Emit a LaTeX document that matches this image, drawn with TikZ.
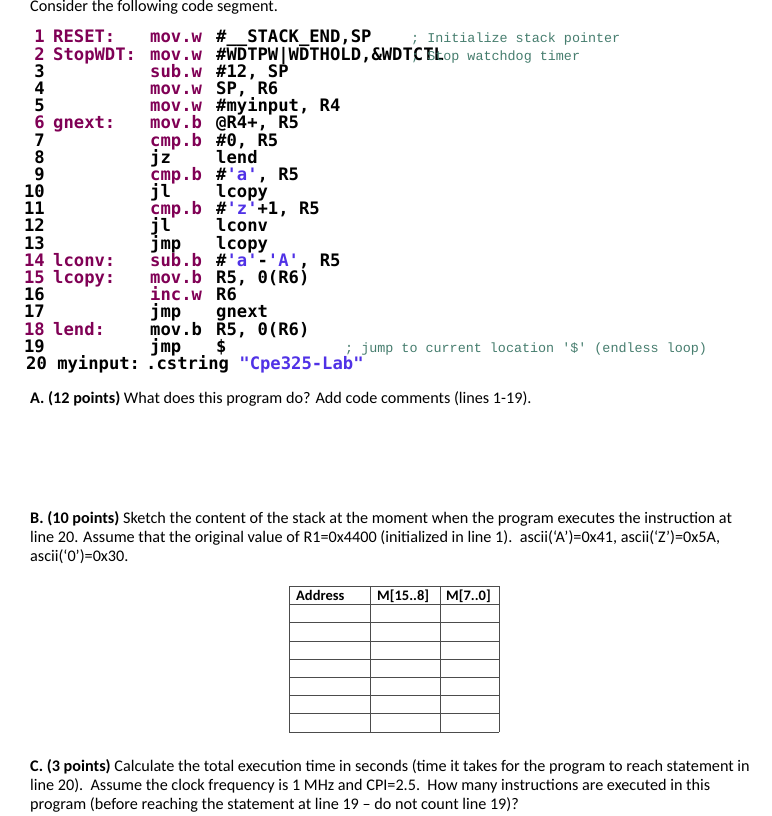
\documentclass[tikz,border=0pt]{standalone}
\usepackage{fontspec}
\setmainfont{Carlito}
\newfontfamily\codef{DejaVu Sans Mono}
\newfontfamily\cmtf{Liberation Mono}
\definecolor{mar}{RGB}{128,0,85}
\definecolor{strc}{RGB}{80,50,230}
\definecolor{cmt}{RGB}{70,125,110}
\begin{document}
\begin{tikzpicture}[x=1pt,y=-1pt,
  txt/.style={anchor=base west,inner sep=0,font=\fontsize{16.2}{18}\selectfont},
  codetx/.style={anchor=base west,inner sep=0,font=\codef\bfseries\fontsize{17.2}{18}\selectfont},
  cmtx/.style={anchor=base west,inner sep=0,text=cmt,font=\cmtf\fontsize{13.4}{14}\selectfont},
  numtx/.style={anchor=base east,inner sep=0,font=\codef\bfseries\fontsize{17.2}{18}\selectfont},
  tl/.style={draw=black!70,line width=0.8pt}]
\useasboundingbox (0,0) rectangle (771,816);
\node[txt] (t0) at (30,12) {Consider the following code segment.};
\def\L#1#2#3#4#5#6{%
  \pgfmathsetmacro\yy{43+17.18*(#1-1)}%
  \node[numtx,text=#2] (n#1) at (45,\yy) {#1};
  \node[codetx,text=#2] (l#1) at (53,\yy) {#3};
  \node[codetx,text=#4] (m#1) at (150,\yy) {#5};
  \node[codetx] (o#1) at (216,\yy) {#6};}
\L{1}{mar}{RESET:}{mar}{mov.w}{\#\_\_STACK\_END,SP}
\L{2}{mar}{StopWDT:}{mar}{mov.w}{\#WDTPW|WDTHOLD,\&WDTCTL}
\L{3}{black}{}{mar}{sub.w}{\#12, SP}
\L{4}{black}{}{mar}{mov.w}{SP, R6}
\L{5}{black}{}{mar}{mov.w}{\#myinput, R4}
\L{6}{mar}{gnext:}{mar}{mov.b}{@R4+, R5}
\L{7}{black}{}{mar}{cmp.b}{\#0, R5}
\L{8}{black}{}{black}{jz}{lend}
\L{9}{black}{}{mar}{cmp.b}{\#\textcolor{strc}{'a'}, R5}
\L{10}{black}{}{black}{jl}{lcopy}
\L{11}{black}{}{mar}{cmp.b}{\#\textcolor{strc}{'z'}+1, R5}
\L{12}{black}{}{black}{jl}{lconv}
\L{13}{black}{}{black}{jmp}{lcopy}
\L{14}{mar}{lconv:}{mar}{sub.b}{\#\textcolor{strc}{'a'}-\textcolor{strc}{'A'}, R5}
\L{15}{mar}{lcopy:}{mar}{mov.b}{R5, 0(R6)}
\L{16}{black}{}{mar}{inc.w}{R6}
\L{17}{black}{}{black}{jmp}{gnext}
\L{18}{mar}{lend:}{black}{mov.b}{R5, 0(R6)}
\L{19}{black}{}{black}{jmp}{\$}
\node[cmtx] (c1) at (411,43) {; Initialize stack pointer};
\node[cmtx] (c2) at (411,60.2) {; Stop watchdog timer};
\node[cmtx] (c19) at (345,352.2) {; jump to current location '\$' (endless loop)};
\node[codetx] (l20) at (26,369.5) {20 myinput:};
\node[codetx] (m20) at (146,369.5) {.cstring \textcolor{strc}{"Cpe325-Lab"}};
\node[txt] (a) at (30,403) {\textbf{A. (12 points)} What does this program do? Add code comments (lines 1-19).};
\node[txt] (b1) at (30,523) {\textbf{B. (10 points)} Sketch the content of the stack at the moment when the program executes the instruction at};
\node[txt] (b2) at (30,542) {line 20. Assume that the original value of R1=0x4400 (initialized in line 1).\ \ ascii(‘A’)=0x41, ascii(‘Z’)=0x5A,};
\node[txt] (b3) at (30,561) {ascii(‘0’)=0x30.};
% table
\foreach \x in {289,370,440,499} \draw[tl] (\x,586) -- (\x,732);
\draw[tl] (289,586) -- (499,586);
\foreach \i in {0,...,7} \draw[tl] (289,{604.5+18.2*\i}) -- (499,{604.5+18.2*\i});
\node[txt,font=\fontsize{14.5}{16}\selectfont\bfseries] (h1) at (296,600) {Address};
\node[txt,font=\fontsize{14.5}{16}\selectfont\bfseries] (h2) at (377,600) {M[15..8]};
\node[txt,font=\fontsize{14.5}{16}\selectfont\bfseries] (h3) at (446,600) {M[7..0]};
\node[txt] (c1t) at (30,771) {\textbf{C. (3 points)} Calculate the total execution time in seconds (time it takes for the program to reach statement in};
\node[txt] (c2t) at (30,790) {line 20).\ \ Assume the clock frequency is 1 MHz and CPI=2.5.\ \ How many instructions are executed in this};
\node[txt] (c3t) at (30,809) {program (before reaching the statement at line 19 – do not count line 19)?};
\end{tikzpicture}
\end{document}
